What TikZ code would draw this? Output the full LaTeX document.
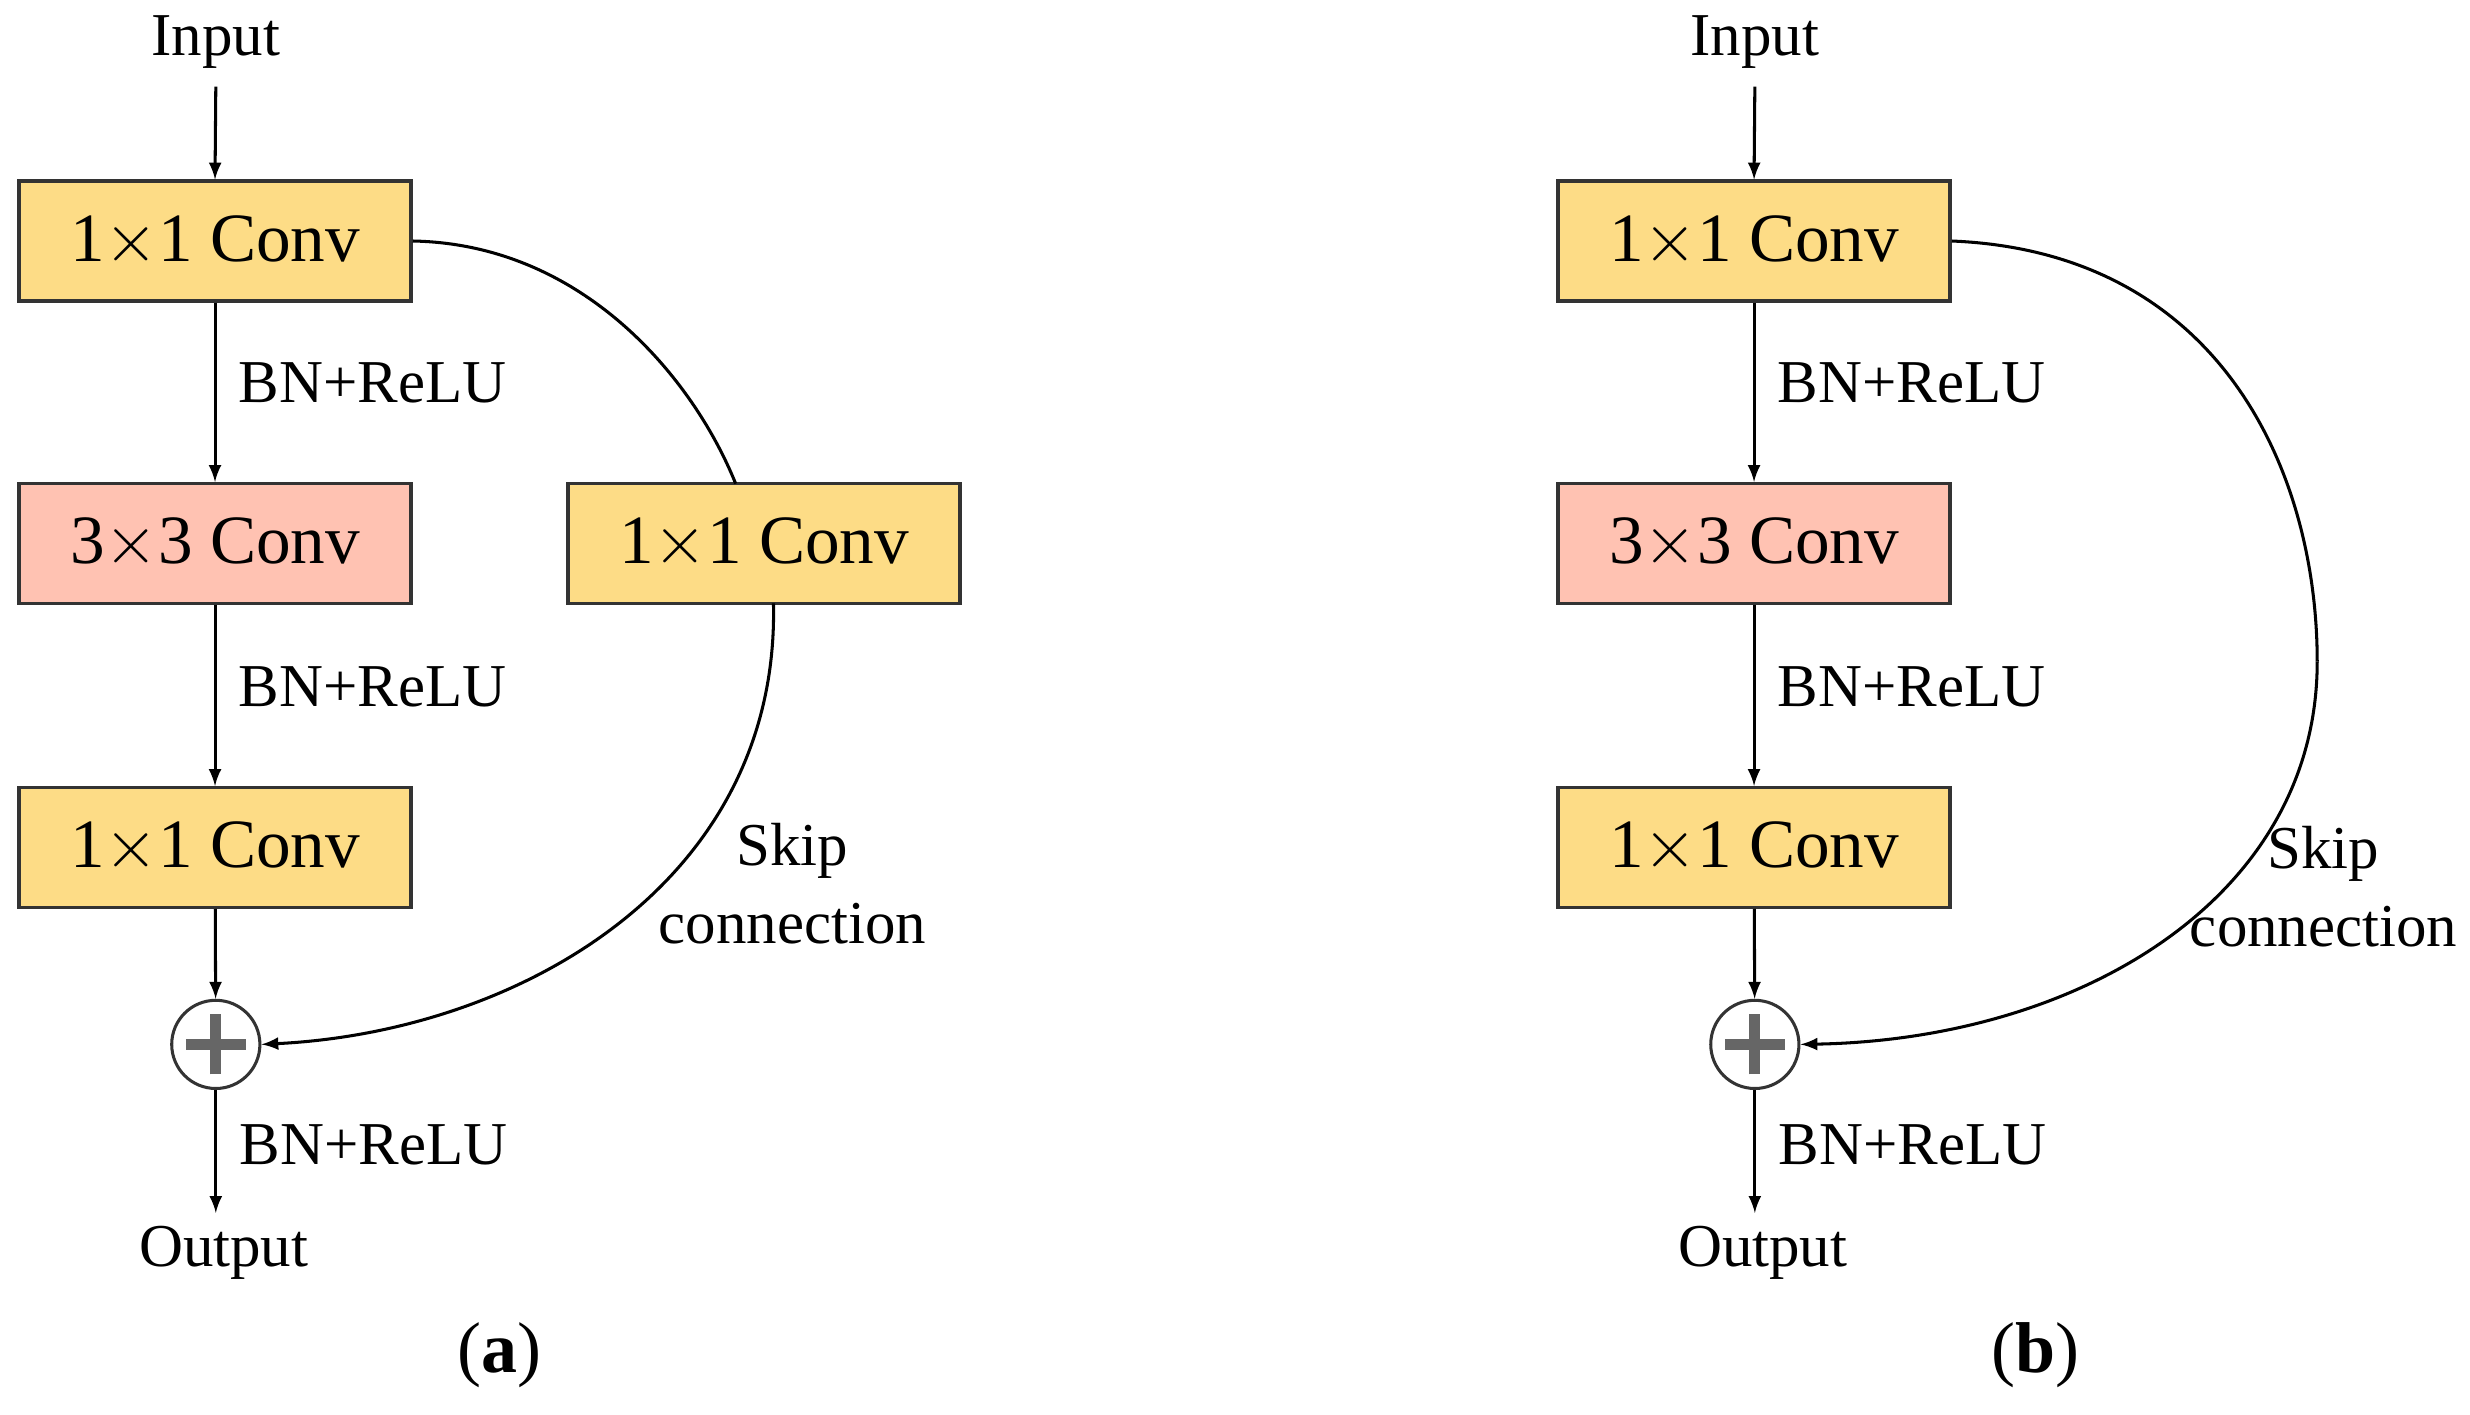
\documentclass[tikz,border=0pt]{standalone}
\usepackage{fontspec}
\setmainfont{Liberation Serif}
\begin{document}
\begin{tikzpicture}[x=0.02cm,y=-0.02cm,
  lbl/.style={font=\fontsize{22}{24}\selectfont,inner sep=0pt},
  box/.style={draw=black!80,line width=1.2pt,minimum width=4.98cm,minimum height=1.52cm,inner sep=0pt,font=\fontsize{25}{28}\selectfont},
  yb/.style={box,fill=yellow!45!orange!45!white},
  ob/.style={box,fill=orange!40!red!30!white},
  arr/.style={-latex,line width=1.1pt},
  plus/.style={circle,draw=black!80,line width=1.1pt,minimum size=1.12cm,inner sep=0pt,
    path picture={\draw[gray!80!black,line width=4pt] ([xshift=-0.38cm]path picture bounding box.center)--([xshift=0.38cm]path picture bounding box.center) ([yshift=-0.38cm]path picture bounding box.center)--([yshift=0.38cm]path picture bounding box.center);}}]
\useasboundingbox (0,0) rectangle (1568,898);
\foreach \o/\s in {0/a,977/b}{
  \begin{scope}[xshift=\o*0.02cm]
  \node[lbl] (in\s) at (137,27) {Input};
  \node[yb] (c1\s) at (136.5,153) {1$\times$1 Conv};
  \node[ob] (c2\s) at (136.5,345) {3$\times$3 Conv};
  \node[yb] (c3\s) at (136.5,538) {1$\times$1 Conv};
  \node[plus] (p\s) at (137,663) {};
  \node[lbl] (out\s) at (142,795) {Output};
  \coordinate (o\s) at (137,770);
  \draw[arr] (137,55) -- (c1\s.north);
  \draw[arr] (c1\s) -- (c2\s) node[lbl,pos=0.45,right=8pt] {BN+ReLU};
  \draw[arr] (c2\s) -- (c3\s) node[lbl,pos=0.45,right=8pt] {BN+ReLU};
  \draw[arr] (c3\s) -- (p\s);
  \draw[arr] (p\s) -- (o\s) node[lbl,pos=0.45,right=8pt] {BN+ReLU};
  \end{scope}}
\node[yb] (r) at (485,345) {1$\times$1 Conv};
\draw[line width=1.1pt] (c1a.east) .. controls (370,155) and (440,240) .. (467,307);
\draw[arr] (491,383) .. controls (495,560) and (330,655) .. (pa.east);
\node[lbl,align=center] (ska) at (503,561) {Skip\\[4pt]connection};
\coordinate (m) at (1471,420);
\draw[line width=1.1pt] (c1b.east) .. controls (1410,160) and (1471,300) .. (m);
\draw[arr] (m) .. controls (1471,570) and (1320,660) .. (pb.east);
\node[lbl,align=center] (skb) at (1475,563) {Skip\\[4pt]connection};
\node[font=\fontsize{26}{28}\selectfont] (la) at (317,860) {(\textbf{a})};
\node[font=\fontsize{26}{28}\selectfont] (lb) at (1292,860) {(\textbf{b})};
\end{tikzpicture}
\end{document}
